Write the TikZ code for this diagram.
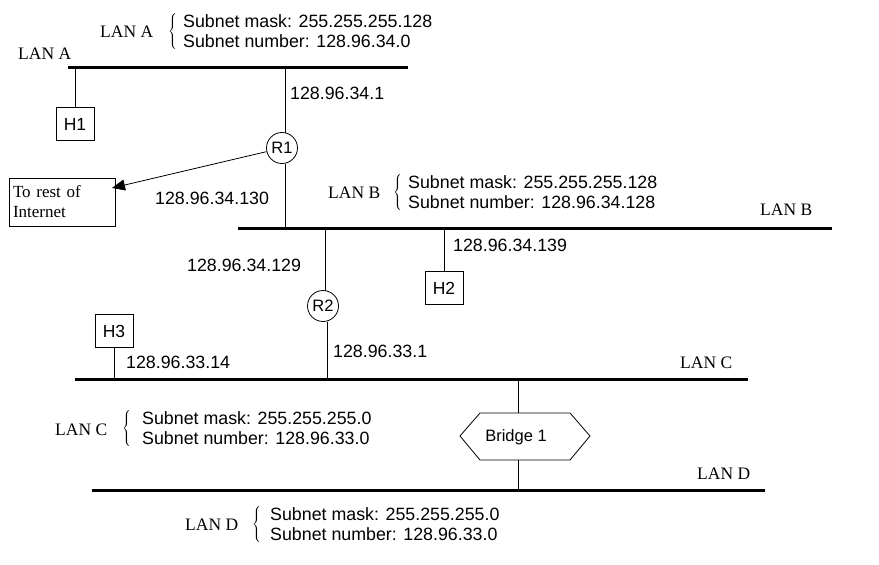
\documentclass[tikz,border=0pt]{standalone}
\usepackage{fontspec}
\setmainfont{Liberation Serif}
\newfontfamily\arialf{Liberation Sans}
\usetikzlibrary{arrows.meta}
\begin{document}
\begin{tikzpicture}[x=1pt,y=-1pt,
  lan/.style={line width=3pt},
  wire/.style={line width=0.8pt},
  sans/.style={font=\arialf\fontsize{17.8}{20}\selectfont,inner sep=0pt},
  serif/.style={font=\fontsize{17.5}{20}\selectfont,inner sep=0pt},
  host/.style={draw,line width=0.8pt,minimum width=38pt,minimum height=33pt,font=\arialf\fontsize{17.5}{19}\selectfont,inner sep=0pt},
  rtr/.style={draw,circle,line width=0.8pt,minimum size=31pt,font=\arialf\fontsize{16.5}{18}\selectfont,inner sep=0pt},
  info/.style={font=\arialf\fontsize{17.8}{20}\selectfont,inner sep=0pt,align=left},
  brc/.style={inner sep=0pt,anchor=west,font=\fontsize{17}{20}\selectfont}]
\useasboundingbox (0,0) rectangle (879,565);
% LANs
\coordinate (a1) at (68,67); \coordinate (a2) at (408,67);
\coordinate (b1) at (238,228); \coordinate (b2) at (832,228);
\coordinate (c1) at (75,379); \coordinate (c2) at (748,379);
\coordinate (d1) at (92,490); \coordinate (d2) at (765,490);
\draw[lan] (a1)--(a2); \draw[lan] (b1)--(b2); \draw[lan] (c1)--(c2); \draw[lan] (d1)--(d2);
\node[serif,anchor=west] (la) at (18,54) {LAN A};
\node[serif,anchor=west] (lb) at (760,210) {LAN B};
\node[serif,anchor=west] (lc) at (680,363) {LAN C};
\node[serif,anchor=west] (ld) at (697,474) {LAN D};
% hosts
\node[host] (h1) at (75,124) {H1};
\draw[wire] (h1.north) -- (75,67);
\node[host] (h2) at (444,288) {H2};
\draw[wire] (h2.north) -- (444,228);
\node[host] (h3) at (114,331) {H3};
\draw[wire] (h3.south) -- (114,379);
% routers
\node[rtr] (r1) at (282,148) {R1};
\draw[wire] (285,67) -- (285,132.5);
\draw[wire] (285,163.5) -- (285,228);
\node[rtr] (r2) at (323,306) {R2};
\draw[wire] (325,228) -- (325,290.5);
\draw[wire] (327,321.5) -- (327,379);
\node[draw,line width=0.8pt,font=\fontsize{17}{20}\selectfont,align=left,inner sep=2pt,minimum width=106pt,minimum height=48pt,text width=98pt] (net) at (62,202) {To rest of\\Internet};
\draw[wire,-{Triangle[length=13pt,width=11pt]}] (r1) -- (112,188);
% addresses
\node[sans,anchor=west] at (290,93) {128.96.34.1};
\node[sans,anchor=west] at (155,198) {128.96.34.130};
\node[sans,anchor=west] at (453,245) {128.96.34.139};
\node[sans,anchor=west] at (187,265) {128.96.34.129};
\node[sans,anchor=west] at (333,351) {128.96.33.1};
\node[sans,anchor=west] at (126,362) {128.96.33.14};
% bridge
\coordinate (bt) at (518,413); \coordinate (bb) at (518,460);
\draw[wire,fill=white] (460,436) -- (480,413) -- (570,413) -- (590,436) -- (570,460) -- (480,460) -- cycle;
\node[font=\arialf\fontsize{16.5}{18}\selectfont,inner sep=0pt] (br) at (516,437) {Bridge 1};
\draw[wire] (518,379) -- (bt);
\draw[wire] (bb) -- (518,490);
% subnet info
\node[serif,anchor=west] at (100,32) {LAN A};
\node[brc] at (168,31) {$\left\{\rule{0pt}{22pt}\right.$};
\node[info,anchor=west] at (183,31) {Subnet mask: 255.255.255.128\\Subnet number: 128.96.34.0};
\node[serif,anchor=west] at (328,193) {LAN B};
\node[brc] at (393,192) {$\left\{\rule{0pt}{22pt}\right.$};
\node[info,anchor=west] at (408,192) {Subnet mask: 255.255.255.128\\Subnet number: 128.96.34.128};
\node[serif,anchor=west] at (55,430) {LAN C};
\node[brc] at (122,428) {$\left\{\rule{0pt}{22pt}\right.$};
\node[info,anchor=west] at (142,428) {Subnet mask: 255.255.255.0\\Subnet number: 128.96.33.0};
\node[serif,anchor=west] at (185,525) {LAN D};
\node[brc] at (252,524) {$\left\{\rule{0pt}{22pt}\right.$};
\node[info,anchor=west] at (270,524) {Subnet mask: 255.255.255.0\\Subnet number: 128.96.33.0};
\end{tikzpicture}
\end{document}
